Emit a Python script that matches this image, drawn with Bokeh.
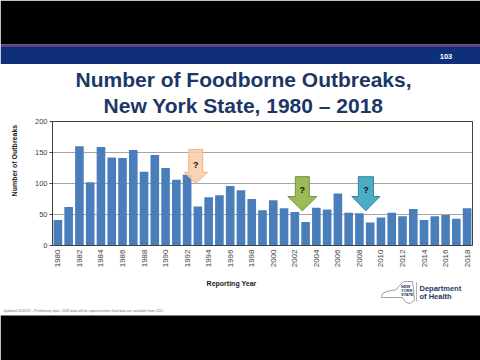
import math
from bokeh.plotting import figure
from bokeh.layouts import column, row
from bokeh.models import Range1d, FixedTicker, ColumnDataSource
from bokeh.core.properties import value
from bokeh.embed import file_html
from bokeh.resources import INLINE

# ---------------- data ----------------
years = list(range(1980, 2019))
outbreaks = [41, 62, 160, 102, 159, 142, 141, 154, 119, 146,
             125, 106, 114, 63, 78, 81, 96, 89, 75, 57,
             73, 60, 54, 38, 61, 58, 84, 53, 52, 37,
             45, 53, 47, 59, 41, 47, 49, 43, 60]
x_tick_years = years[::2]
y_ticks = [0, 50, 100, 150, 200]
title_lines = ["Number of Foodborne Outbreaks,", "New York State, 1980 \u2013 2018"]
y_title = "Number of Outbreaks"
x_title = "Reporting Year"
slide_number = "103"
footer_note = "Updated 05/2019 \u2013 Preliminary data; 2018 data will be updated when final data are available from CDC"
logo_state = ["NEW", "YORK", "STATE"]
logo_dept = ["Department", "of Health"]

# question-mark arrows (annotations)
arrow_years = [1992.8, 2002.7, 2008.6]
arrow_top = [155, 111, 111]
arrow_neck = [118, 79, 79]
arrow_tip = [100, 56, 56]
arrow_shaft_half = [0.65, 0.65, 0.7]
arrow_head_half = [1.1, 1.35, 1.3]
arrow_text = ["?", "?", "?"]
arrow_text_y = [130, 89, 89]
arrow_fill = ["#FBCBA5", "#9BBB59", "#4BACC6"]
arrow_line = ["#F4B183", "#76923C", "#31859C"]
arrow_alpha = [0.85, 1.0, 1.0]

FONT = "Liberation Sans"
NAVY = "#1c3766"


def canvas(w, h, x0, y0):
    f = figure(width=w, height=h, output_backend="svg", toolbar_location=None,
               x_range=Range1d(x0, x0 + w), y_range=Range1d(y0 + h, y0),
               x_axis_type=None, y_axis_type=None, min_border=0,
               background_fill_color="white", border_fill_color="white",
               outline_line_color=None)
    return f


def txt(f, x, y, text, size, color, bold=True, align="center", angle=0.0):
    f.text(x=[x], y=[y], text=[text], text_font=value(FONT), text_font_size=value(size),
           text_color=color, text_font_style="bold" if bold else "normal",
           text_align=align, text_baseline="middle", angle=angle)


# ---------- header (page y 0..118) ----------
top = canvas(480, 118, 0, 0)
top.quad(left=[0, 0, 0], right=[480, 480, 480], top=[0, 44, 46.5], bottom=[44, 46.5, 63.5],
         fill_color=["#000000", "#5d3f8f", "#0f2f7a"], line_color=None)
txt(top, 445.5, 55.5, slide_number, "7.5px", "white")
txt(top, 243, 79, title_lines[0], "21px", NAVY)
txt(top, 243, 105, title_lines[1], "21px", NAVY)

# ---------- y title strip (page x 0..30, y 118..275) ----------
ylab = canvas(30, 157, 0, 118)
txt(ylab, 14, 167.5, y_title, "7px", "#1a1a1a", angle=math.pi / 2)

# ---------- chart (page x 30..480, y 118..275) ----------
p = figure(width=450, height=157, output_backend="svg", toolbar_location=None,
           x_range=Range1d(1979.5, 2018.5), y_range=Range1d(0, 200),
           min_border_left=22, min_border_right=8, min_border_top=3, min_border_bottom=30,
           background_fill_color="white", border_fill_color="white")
p.outline_line_color = "#404040"
p.outline_line_width = 1

src = ColumnDataSource(dict(year=years, n=outbreaks))
p.vbar(x="year", top="n", width=0.8, source=src, fill_color="#4A7EBB", line_color=None)

axs, ays = [], []
for xc, t, nk, tp, sh, hh in zip(arrow_years, arrow_top, arrow_neck, arrow_tip,
                                 arrow_shaft_half, arrow_head_half):
    axs.append([xc - sh, xc + sh, xc + sh, xc + hh, xc, xc - hh, xc - sh])
    ays.append([t, t, nk, nk, tp, nk, nk])
asrc = ColumnDataSource(dict(xs=axs, ys=ays, fc=arrow_fill, lc=arrow_line, fa=arrow_alpha,
                             tx=arrow_years, ty=arrow_text_y, txt=arrow_text))
p.patches(xs="xs", ys="ys", fill_color="fc", line_color="lc", fill_alpha="fa", line_width=1, source=asrc)
p.text(x="tx", y="ty", text="txt", source=asrc, text_font=value(FONT), text_font_size=value("9px"),
       text_font_style="bold", text_color="#111111", text_align="center", text_baseline="middle")

p.xaxis.ticker = FixedTicker(ticks=x_tick_years)
p.xaxis.major_label_orientation = math.pi / 2
p.xaxis.major_tick_out = 0
p.xaxis.major_tick_in = 0
p.xaxis.major_tick_line_color = None
p.xaxis.minor_tick_line_color = None
p.xaxis.major_label_standoff = 4
p.xaxis.axis_line_color = "#404040"
p.xaxis.major_label_text_font = FONT
p.xaxis.major_label_text_font_size = "8px"
p.xaxis.major_label_text_color = "#404040"

p.yaxis.ticker = FixedTicker(ticks=y_ticks)
p.yaxis.major_tick_out = 3
p.yaxis.major_tick_in = 0
p.yaxis.minor_tick_line_color = None
p.yaxis.major_label_standoff = 2
p.yaxis.axis_line_color = "#404040"
p.yaxis.major_tick_line_color = "#404040"
p.yaxis.major_label_text_font = FONT
p.yaxis.major_label_text_font_size = "7.5px"
p.yaxis.major_label_text_color = "#404040"

p.xgrid.visible = False
p.ygrid.ticker = FixedTicker(ticks=y_ticks)
p.ygrid.grid_line_color = "#a6a6a6"

# ---------- footer (page y 275..360) ----------
bot = canvas(480, 85, 0, 275)
bot.quad(left=[0], right=[480], top=[315], bottom=[360], fill_color="#000000", line_color=None)
txt(bot, 231, 283, x_title, "7px", "#1a1a1a")
txt(bot, 3, 310, footer_note, "3.5px", "#777777", bold=False, align="left")
bot.patch(x=[381, 382, 386, 396, 399, 402, 404, 412, 413, 414, 409, 406, 404, 402, 398, 381],
          y=[297, 293, 291, 289, 285, 282, 281, 281, 289, 300, 303, 302, 300, 297, 297, 297],
          fill_color="white", line_color="#8a8a8a", line_width=0.8)
for i, s in enumerate(logo_state):
    txt(bot, 400.5, 285.5 + 4 * i, s, "4px", NAVY, align="left")
bot.quad(left=[415.6], right=[416.4], top=[282], bottom=[301], fill_color="#9a9a9a", line_color=None)
txt(bot, 419, 288, logo_dept[0], "7.5px", NAVY, align="left")
txt(bot, 419, 295.5, logo_dept[1], "7.5px", NAVY, align="left")

layout = column(top, row(ylab, p), bot)
open("out.html", "w").write(file_html(layout, INLINE))
